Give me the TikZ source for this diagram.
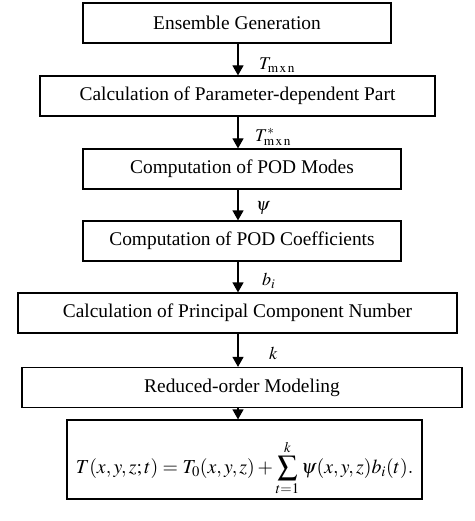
\documentclass[tikz,border=0pt]{standalone}
\usepackage{mathptmx}
\usepackage{fontspec}
\setmainfont{Liberation Serif}
\usetikzlibrary{arrows.meta}

\tikzset{
  stage/.style={draw, line width=1.2pt, minimum height=40pt, inner sep=0pt,
    font=\fontsize{19.4}{23}\selectfont},
  flow/.style={line width=1.2pt, -{Triangle[length=10pt,width=11pt]}},
  flowlabel/.style={anchor=west, inner sep=0pt, font=\fontsize{18}{21}\selectfont}
}

\begin{document}
\begin{tikzpicture}[x=1pt,y=-1pt]

\useasboundingbox (0,0) rectangle (474,521);

\coordinate (spine) at (238,0);

\node[stage, minimum width=308pt] (ens)     at (237,23)    {Ensemble Generation};
\node[stage, minimum width=395pt] (param)   at (237.5,96)  {Calculation of Parameter-dependent Part};
\node[stage, minimum width=318pt] (modes)   at (242,169)   {Computation of POD Modes};
\node[stage, minimum width=318pt] (coeff)   at (242,241)   {Computation of POD Coefficients};
\node[stage, minimum width=439pt] (number)  at (237.5,313) {Calculation of Principal Component Number};
\node[stage, minimum width=440pt] (rom)     at (242,387.5) {Reduced-order Modeling};
\node[stage, minimum width=355pt, minimum height=79pt] (formula) at (244.5,459.5)
  {\fontsize{19.8}{24}\selectfont\raisebox{-14pt}[0pt][0pt]{$T(x,y,z;t)=T_0(x,y,z)+\displaystyle\sum_{t=1}^{k}\psi(x,y,z)b_i(t).$}};

\draw[flow] (ens.south -| spine)    -- (param.north -| spine);
\draw[flow] (param.south -| spine)  -- (modes.north -| spine);
\draw[flow] (modes.south -| spine)  -- (coeff.north -| spine);
\draw[flow] (coeff.south -| spine)  -- (number.north -| spine);
\draw[flow] (number.south -| spine) -- (rom.north -| spine);
\draw[flow] (rom.south -| spine)    -- (formula.north -| spine);

\node[flowlabel] (lT)   at (259,65)  {$T_{\mathrm{m\,x\,n}}$};
\node[flowlabel] (lTs)  at (255,137) {$T^{*}_{\mathrm{m\,x\,n}}$};
\node[flowlabel] (lpsi) at (256,208) {$\psi$};
\node[flowlabel] (lb)   at (262,281) {$b_i$};
\node[flowlabel] (lk)   at (269,353) {$k$};

\end{tikzpicture}
\end{document}
